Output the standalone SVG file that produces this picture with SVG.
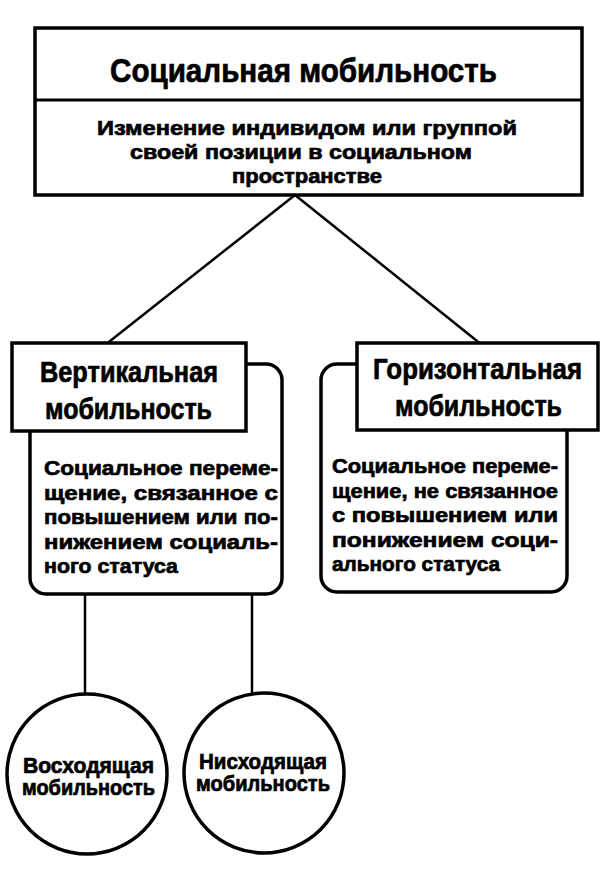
<svg xmlns="http://www.w3.org/2000/svg" width="610" height="881" viewBox="0 0 610 881">
<style>
.b{fill:#fff;stroke:#000;stroke-width:3.5}
.t{font-family:"Liberation Sans",Arial,sans-serif;font-weight:bold;fill:#000;stroke:#000;stroke-width:0.7}
.c line{stroke:#000;stroke-width:2.5}
</style>
<rect width="610" height="881" fill="#fff"/>
<g class="c">
<line x1="295" y1="195" x2="105" y2="345"/>
<line x1="295" y1="195" x2="482" y2="345"/>
<line x1="85" y1="593" x2="85" y2="694"/>
<line x1="252" y1="593" x2="252" y2="693"/>
</g>
<g id="top">
<rect class="b" x="35" y="28" width="547" height="167"/>
<line x1="35" y1="100" x2="582" y2="100" stroke="#000" stroke-width="3"/>
<text class="t" x="110" y="82" font-size="33" textLength="387" lengthAdjust="spacingAndGlyphs">Социальная мобильность</text>
<text class="t" x="97" y="135" font-size="21" textLength="420" lengthAdjust="spacingAndGlyphs">Изменение индивидом или группой</text>
<text class="t" x="130" y="159" font-size="21" textLength="342" lengthAdjust="spacingAndGlyphs">своей позиции в социальном</text>
<text class="t" x="232" y="183" font-size="21" textLength="150" lengthAdjust="spacingAndGlyphs">пространстве</text>
</g>
<g id="vertical">
<rect class="b" x="30" y="364" width="252" height="230" rx="16"/>
<rect class="b" x="12" y="343" width="234" height="88"/>
<text class="t" x="40" y="382" font-size="29" textLength="178" lengthAdjust="spacingAndGlyphs">Вертикальная</text>
<text class="t" x="45" y="419" font-size="29" textLength="167" lengthAdjust="spacingAndGlyphs">мобильность</text>
<text class="t" x="44" y="475" font-size="21" textLength="234" lengthAdjust="spacingAndGlyphs">Социальное переме-</text>
<text class="t" x="44" y="500" font-size="21" textLength="234" lengthAdjust="spacingAndGlyphs">щение, связанное с</text>
<text class="t" x="44" y="524" font-size="21" textLength="234" lengthAdjust="spacingAndGlyphs">повышением или по-</text>
<text class="t" x="44" y="549" font-size="21" textLength="234" lengthAdjust="spacingAndGlyphs">нижением социаль-</text>
<text class="t" x="44" y="573" font-size="21" textLength="134" lengthAdjust="spacingAndGlyphs">ного статуса</text>
</g>
<g id="horizontal">
<rect class="b" x="321" y="364" width="246" height="228" rx="16"/>
<rect class="b" x="357" y="343" width="241" height="87"/>
<text class="t" x="373" y="379" font-size="29" textLength="209" lengthAdjust="spacingAndGlyphs">Горизонтальная</text>
<text class="t" x="395" y="416" font-size="29" textLength="167" lengthAdjust="spacingAndGlyphs">мобильность</text>
<text class="t" x="332" y="473" font-size="21" textLength="226" lengthAdjust="spacingAndGlyphs">Социальное переме-</text>
<text class="t" x="332" y="498" font-size="21" textLength="226" lengthAdjust="spacingAndGlyphs">щение, не связанное</text>
<text class="t" x="332" y="522" font-size="21" textLength="226" lengthAdjust="spacingAndGlyphs">с повышением или</text>
<text class="t" x="332" y="547" font-size="21" textLength="226" lengthAdjust="spacingAndGlyphs">понижением соци-</text>
<text class="t" x="332" y="571" font-size="21" textLength="168" lengthAdjust="spacingAndGlyphs">ального статуса</text>
</g>
<g id="up">
<circle class="b" cx="87" cy="774" r="80"/>
<text class="t" x="23" y="773" font-size="22" textLength="131" lengthAdjust="spacingAndGlyphs">Восходящая</text>
<text class="t" x="22" y="795" font-size="22" textLength="133" lengthAdjust="spacingAndGlyphs">мобильность</text>
</g>
<g id="down">
<circle class="b" cx="264" cy="773" r="80"/>
<text class="t" x="199" y="769" font-size="22" textLength="128" lengthAdjust="spacingAndGlyphs">Нисходящая</text>
<text class="t" x="196" y="791" font-size="22" textLength="134" lengthAdjust="spacingAndGlyphs">мобильность</text>
</g>
</svg>
